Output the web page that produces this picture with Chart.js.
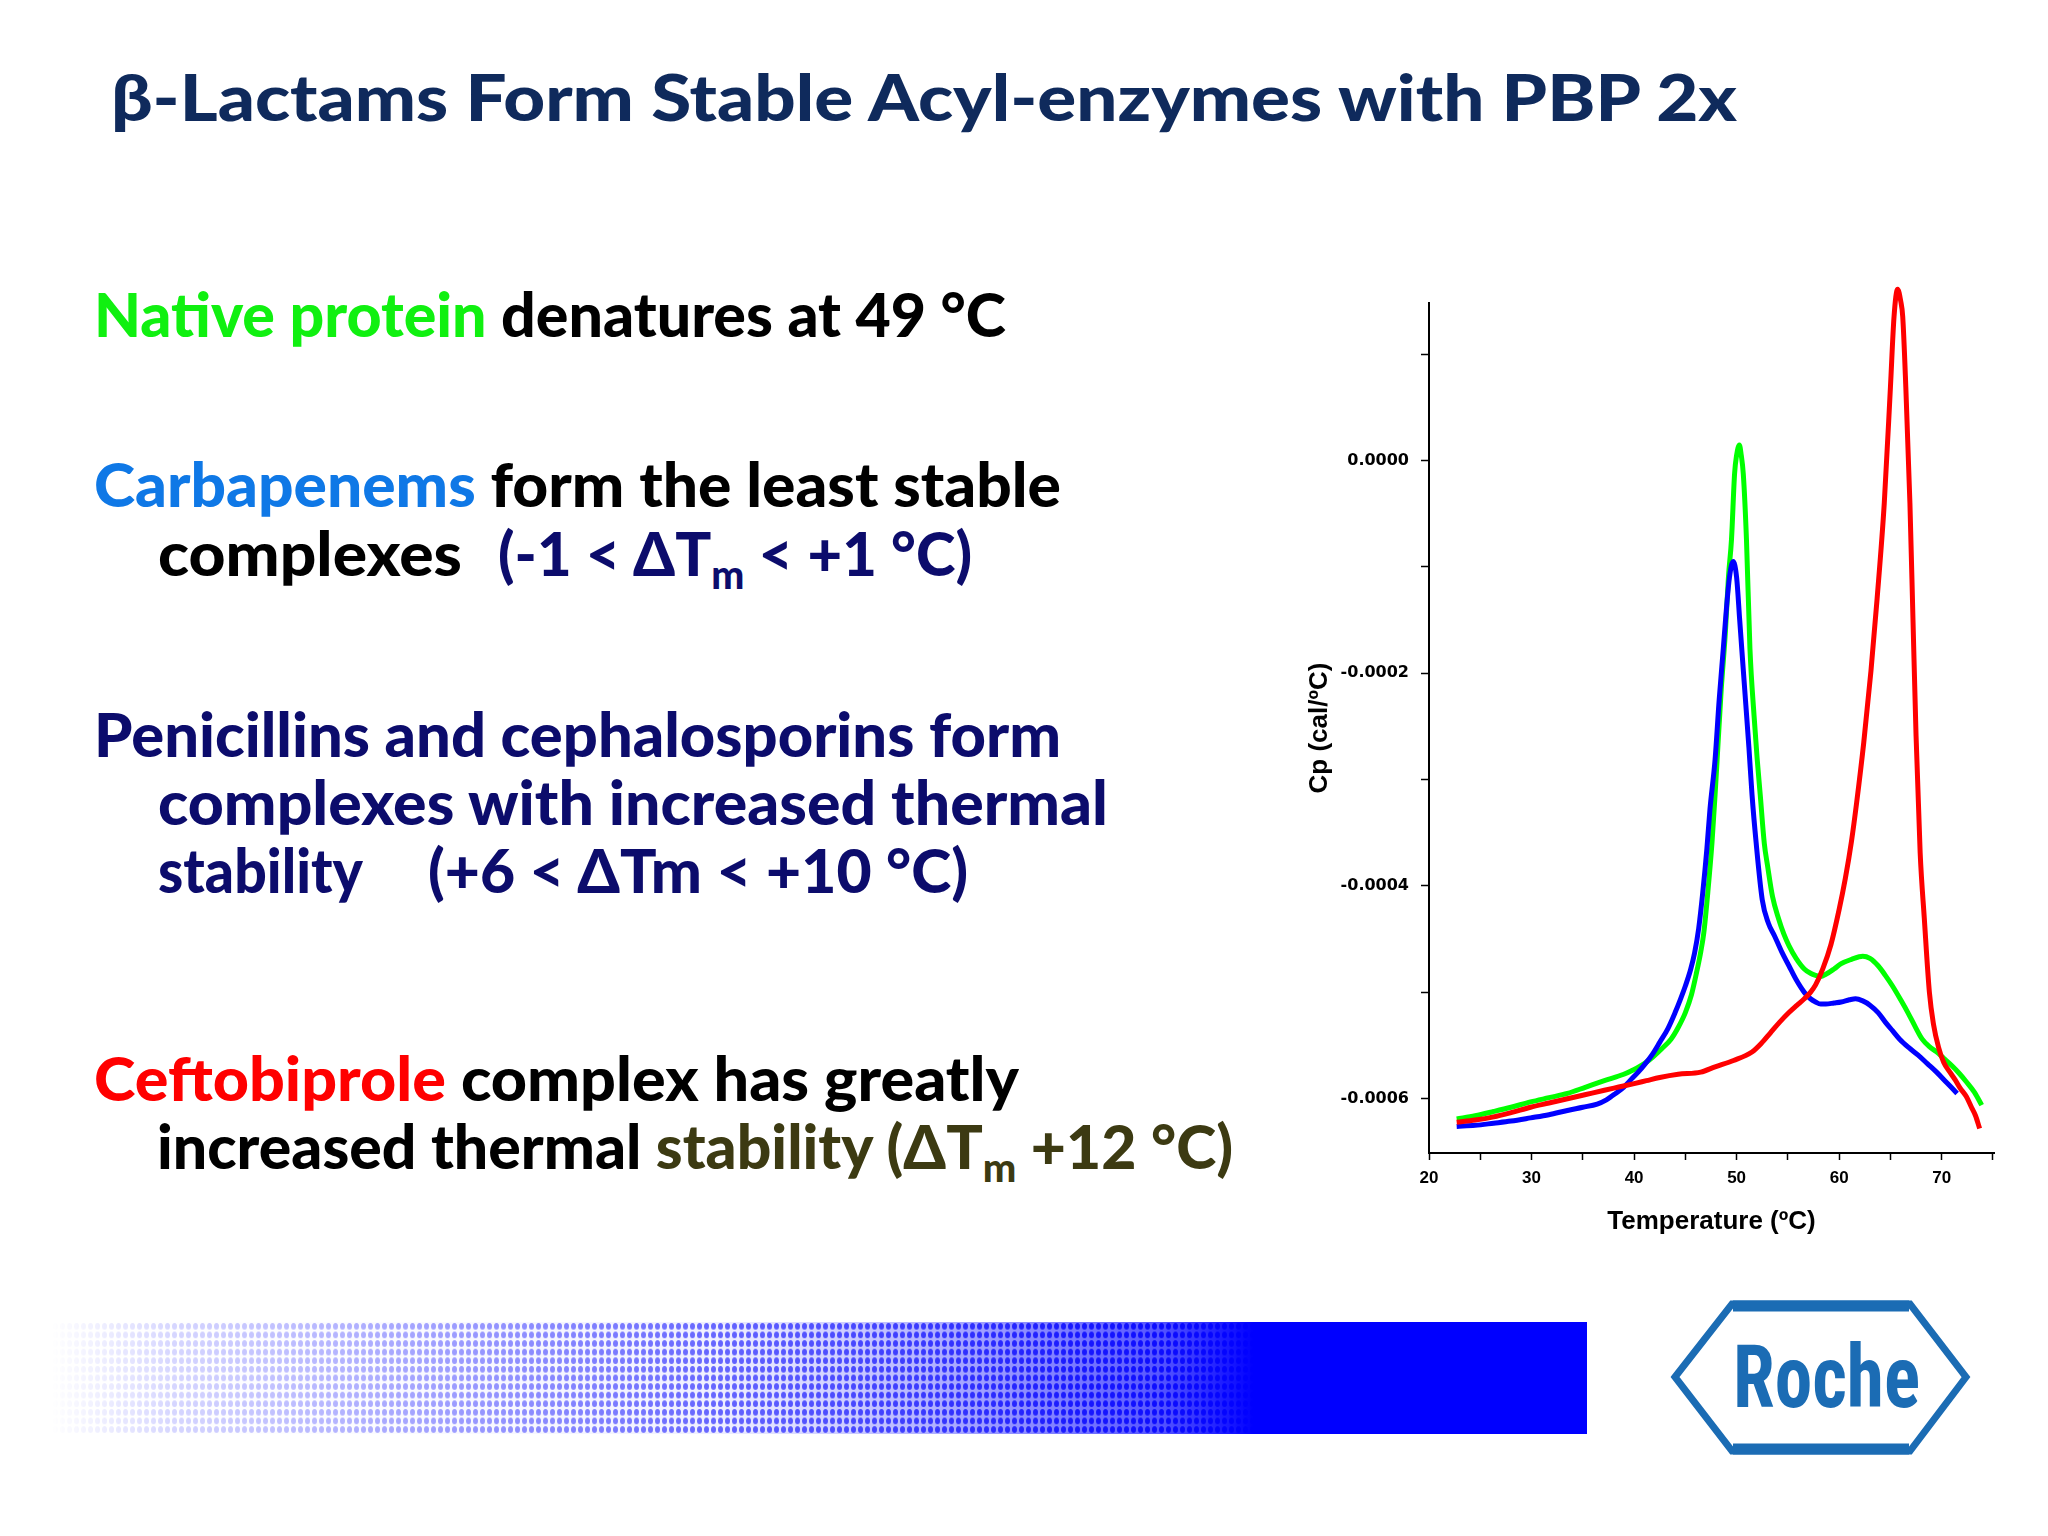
<!DOCTYPE html>
<html>
<head>
<meta charset="utf-8">
<script src="https://cdn.jsdelivr.net/npm/chart.js@4.4.1/dist/chart.umd.min.js"></script>
<style>
  html, body { margin: 0; padding: 0; background: #fff; }
  #slide { position: relative; width: 2048px; height: 1536px; overflow: hidden; background: #fff; }
  #art { position: absolute; left: 0; top: 0; }
  #cp { position: absolute; left: 1300px; top: 250px; }
</style>
</head>
<body>
<div id="slide">
  <svg id="art" width="2048" height="1536" viewBox="0 0 2048 1536" xmlns="http://www.w3.org/2000/svg">
    <defs>
      <linearGradient id="fade" gradientUnits="userSpaceOnUse" x1="52" y1="0" x2="1254" y2="0">
        <stop offset="0" stop-color="#0000ff" stop-opacity="0"/>
        <stop offset="0.1" stop-color="#0000ff" stop-opacity="0.16"/>
        <stop offset="0.5" stop-color="#0000ff" stop-opacity="0.55"/>
        <stop offset="0.85" stop-color="#0000ff" stop-opacity="0.9"/>
        <stop offset="1" stop-color="#0000ff" stop-opacity="1"/>
      </linearGradient>
      <linearGradient id="solidify" gradientUnits="userSpaceOnUse" x1="52" y1="0" x2="1254" y2="0">
        <stop offset="0" stop-color="#fff" stop-opacity="0"/>
        <stop offset="0.55" stop-color="#fff" stop-opacity="0.1"/>
        <stop offset="0.92" stop-color="#fff" stop-opacity="0.7"/>
        <stop offset="1" stop-color="#fff" stop-opacity="1"/>
      </linearGradient>
      <pattern id="dots" patternUnits="userSpaceOnUse" x="52" y="1322" width="7" height="8.6">
        <rect width="7" height="8.6" fill="#000"/>
        <ellipse cx="3.5" cy="4.3" rx="2.5" ry="3.4" fill="#fff"/>
      </pattern>
      <mask id="halftone" maskUnits="userSpaceOnUse" x="0" y="0" width="2048" height="1536">
        <rect x="52" y="1322" width="1202" height="112" fill="url(#dots)"/>
        <rect x="52" y="1322" width="1202" height="112" fill="url(#solidify)"/>
      </mask>
    </defs>

    <g font-family="Lato, 'Open Sans', sans-serif" font-weight="900">
      <text x="111" y="121" font-size="65" fill="#0f2a5c" textLength="1626" lengthAdjust="spacingAndGlyphs">β-Lactams Form Stable Acyl-enzymes with PBP 2x</text>

      <text x="94" y="337" font-size="61" textLength="912" lengthAdjust="spacingAndGlyphs"><tspan fill="#10f010">Native protein</tspan><tspan fill="#000"> denatures at 49 °C</tspan></text>

      <text x="94" y="507" font-size="61" textLength="967" lengthAdjust="spacingAndGlyphs"><tspan fill="#0f78e6">Carbapenems</tspan><tspan fill="#000"> form the least stable</tspan></text>
      <text x="158" y="576" font-size="61" fill="#000" textLength="304" lengthAdjust="spacingAndGlyphs">complexes</text>
      <text x="498" y="576" font-size="61" fill="#0c0c6c" textLength="474" lengthAdjust="spacingAndGlyphs">(-1 &lt; ΔT<tspan font-size="40" dy="13">m</tspan><tspan dy="-13"> &lt; +1 °C)</tspan></text>

      <text x="94" y="757" font-size="61" fill="#0c0c6c" textLength="967" lengthAdjust="spacingAndGlyphs">Penicillins and cephalosporins form</text>
      <text x="158" y="825" font-size="61" fill="#0c0c6c" textLength="950" lengthAdjust="spacingAndGlyphs">complexes with increased thermal</text>
      <text x="158" y="893" font-size="61" fill="#0c0c6c" textLength="205" lengthAdjust="spacingAndGlyphs">stability</text>
      <text x="428" y="893" font-size="61" fill="#0c0c6c" textLength="540" lengthAdjust="spacingAndGlyphs">(+6 &lt; ΔTm &lt; +10 °C)</text>

      <text x="94" y="1101" font-size="61" textLength="925" lengthAdjust="spacingAndGlyphs"><tspan fill="#ff0000">Ceftobiprole</tspan><tspan fill="#000"> complex has greatly</tspan></text>
      <text x="157" y="1169" font-size="61" textLength="1076" lengthAdjust="spacingAndGlyphs"><tspan fill="#000">increased thermal </tspan><tspan fill="#3c3a12">stability (ΔT</tspan><tspan fill="#3c3a12" font-size="40" dy="13">m</tspan><tspan fill="#3c3a12" dy="-13"> +12 °C)</tspan></text>
    </g>

    <rect x="52" y="1322" width="1202" height="112" fill="url(#fade)" mask="url(#halftone)"/>
    <rect x="1253" y="1322" width="334" height="112" fill="#0000ff"/>

    <g fill="none" stroke="#1b6cb4">
      <polygon points="1675,1377 1732,1304 1910,1304 1966,1377 1910,1451 1732,1451" stroke-width="7" stroke-linejoin="miter"/>
      <line x1="1733" y1="1306" x2="1909" y2="1306" stroke-width="11"/>
      <line x1="1733" y1="1449" x2="1909" y2="1449" stroke-width="11"/>
    </g>
    <text x="1733" y="1407" font-family="'Liberation Sans Narrow', 'Roboto Condensed', Roboto, sans-serif" font-weight="700" font-size="88" fill="#1b6cb4" textLength="187" lengthAdjust="spacingAndGlyphs">Roche</text>
  </svg>
  <canvas id="cp" width="710" height="987"></canvas>
</div>

<script>
// native PBP 2x (green)
const tempNative = [22.7, 24.5, 26.3, 28, 29.9, 31.7, 33.5, 35.3, 37.1, 39.0, 39.9, 41.0, 41.8, 42.7, 43.6, 44.3,
  45.0, 45.6, 46.1, 46.5, 46.8, 47.2, 47.6, 47.9, 48.1, 48.5, 48.9, 49.2, 49.5, 49.8, 50.0, 50.27, 50.45, 50.65,
  50.96, 51.3, 51.7, 52.0, 52.3, 52.7, 53.0, 53.5, 54.1, 54.6, 55.1, 55.8, 56.6, 57.2, 57.7, 58.2, 58.7, 59.5,
  60.2, 61.2, 62.3, 63.0, 63.8, 64.5, 65.2, 66.0, 66.7, 67.4, 68.1, 68.8, 69.5, 70.2, 71.0, 71.7, 72.4, 73.2, 73.9];
const cpNative = [-0.000619, -0.000616, -0.000612, -0.000608, -0.000603, -0.000599, -0.000595, -0.000589,
  -0.000583, -0.000577, -0.000573, -0.000567, -0.000561, -0.000553, -0.000544, -0.000533, -0.000519, -0.000502,
  -0.000481, -0.000462, -0.000444, -0.000405, -0.000359, -0.000314, -0.000281, -0.000215, -0.000162, -0.000110,
  -0.0000743, -0.0000126, 0.000005, 0.0000146, 0.000005, -0.0000126, -0.0000743, -0.000177, -0.000240, -0.000280,
  -0.000314, -0.000360, -0.000380, -0.000410, -0.000431, -0.000445, -0.000456, -0.000468, -0.000478, -0.000482,
  -0.000484, -0.000485, -0.000483, -0.000478, -0.000473, -0.000469, -0.000466, -0.000468, -0.000475, -0.000484,
  -0.000494, -0.000507, -0.000519, -0.000532, -0.000544, -0.000551, -0.000556, -0.000562, -0.000569, -0.000576,
  -0.000584, -0.000594, -0.000606];

// carbapenem complex (blue)
const tempCarbapenem = [22.7, 24.5, 26.3, 28, 29.9, 31.7, 33.5, 35, 36.4, 37.3, 38.2, 39.0, 39.6, 40.4, 41.1, 41.8,
  42.5, 43.3, 44.0, 44.5, 45.0, 45.5, 45.9, 46.3, 46.7, 47.1, 47.4, 47.9, 48.3, 48.7, 49.0, 49.3, 49.66, 50.0,
  50.3, 50.5, 50.9, 51.2, 51.5, 51.9, 52.5, 53.1, 53.7, 54.4, 55.1, 55.8, 56.6, 57.2, 57.7, 58.2, 58.7, 59.5, 60.2,
  61.0, 61.6, 62.3, 63.0, 63.8, 64.5, 65.2, 65.9, 66.8, 67.7, 68.6, 69.5, 70.5, 71.5];
const cpCarbapenem = [-0.000626, -0.000625, -0.000623, -0.000621, -0.000618, -0.000615, -0.000611, -0.000608,
  -0.000605, -0.000601, -0.000595, -0.000589, -0.000583, -0.000575, -0.000567, -0.000558, -0.000547, -0.000534,
  -0.000519, -0.000507, -0.000494, -0.000479, -0.000463, -0.000440, -0.000406, -0.000365, -0.000328, -0.000281,
  -0.000225, -0.000177, -0.000140, -0.000110, -0.000095, -0.000110, -0.000150, -0.000177, -0.000230, -0.000270,
  -0.000314, -0.000359, -0.000413, -0.000435, -0.000447, -0.000462, -0.000475, -0.000488, -0.000500, -0.000506,
  -0.000509, -0.000511, -0.000511, -0.000510, -0.000509, -0.000507, -0.000506, -0.000508, -0.000512, -0.000519,
  -0.000528, -0.000536, -0.000544, -0.000552, -0.000559, -0.000567, -0.000575, -0.000585, -0.000595];

// ceftobiprole complex (red)
const tempCeftobiprole = [22.7, 24.5, 26.3, 28, 29.9, 31.7, 33.5, 35.3, 37.1, 38.5, 39.9, 41.2, 42.5, 44.3, 46.5,
  47.9, 49.7, 51.5, 52.4, 53.3, 54.2, 55.1, 55.9, 56.6, 57.2, 57.7, 58.4, 59.2, 60.0, 60.6, 61.2, 61.7, 62.4, 63.1,
  63.7, 64.4, 65.0, 65.35, 65.7, 66.0, 66.2, 66.5, 66.9, 67.2, 67.5, 67.9, 68.3, 68.8, 69.2, 69.7, 70.2, 70.8,
  71.3, 71.8, 72.4, 72.9, 73.3, 73.7];
const cpCeftobiprole = [-0.000622, -0.000620, -0.000617, -0.000613, -0.000608, -0.000604, -0.000600, -0.000596,
  -0.000592, -0.000589, -0.000586, -0.000583, -0.000580, -0.000577, -0.000575, -0.000570, -0.000564, -0.000556,
  -0.000548, -0.000538, -0.000528, -0.000519, -0.000512, -0.000506, -0.000500, -0.000493, -0.000478, -0.000455,
  -0.000422, -0.000393, -0.000358, -0.000322, -0.000265, -0.000198, -0.000130, -0.000040, 0.000069, 0.000135,
  0.000161, 0.000150, 0.000135, 0.000069, -0.000040, -0.000150, -0.000259, -0.000369, -0.000430, -0.000500,
  -0.000530, -0.000552, -0.000566, -0.000575, -0.000582, -0.000590, -0.000598, -0.000608, -0.000616, -0.000628];

const xTickStep = 5;
const yTickStep = 0.0001;

function toPoints(xs, ys) {
  return xs.map((x, i) => ({ x: x, y: ys[i] }));
}

function curve(label, xs, ys, color, order) {
  return {
    label: label,
    data: toPoints(xs, ys),
    borderColor: color,
    backgroundColor: color,
    borderWidth: 5,
    pointRadius: 0,
    tension: 0.35,
    cubicInterpolationMode: 'monotone',
    clip: false,
    order: order
  };
}

const axisFont = { family: '"Liberation Sans", Arial, sans-serif', weight: 'bold', size: 26 };

const ctx = document.getElementById('cp').getContext('2d');
new Chart(ctx, {
  type: 'line',
  data: {
    datasets: [
      curve('Ceftobiprole', tempCeftobiprole, cpCeftobiprole, '#ff0000', 0),
      curve('Carbapenem', tempCarbapenem, cpCarbapenem, '#0000ff', 1),
      curve('Native', tempNative, cpNative, '#00ff00', 2)
    ]
  },
  options: {
    responsive: false,
    animation: false,
    devicePixelRatio: 1,
    layout: { padding: { left: 0, top: 53, right: 16, bottom: 0 } },
    plugins: { legend: { display: false }, tooltip: { enabled: false } },
    scales: {
      x: {
        type: 'linear',
        min: 20,
        max: 75.1,
        afterFit: (s) => { s.height = 84; },
        border: { display: true, color: '#000', width: 2 },
        grid: { drawOnChartArea: false, drawTicks: true, tickLength: 7, color: '#000', tickWidth: 1.5 },
        ticks: {
          stepSize: xTickStep,
          includeBounds: false,
          autoSkip: false,
          maxTicksLimit: 30,
          maxRotation: 0,
          padding: 8,
          color: '#000',
          font: { family: '"Liberation Sans", Arial, sans-serif', weight: 'bold', size: 17 },
          callback: (v) => (Math.round(v) % 10 === 0 ? String(Math.round(v)) : '')
        },
        title: {
          display: true,
          text: 'Temperature (ºC)',
          color: '#000',
          font: axisFont,
          padding: { top: 4, bottom: 0 }
        }
      },
      y: {
        type: 'linear',
        min: -0.000651,
        max: 0.000148,
        afterFit: (s) => { s.width = 129; },
        border: { display: true, color: '#000', width: 2 },
        grid: { drawOnChartArea: false, drawTicks: true, tickLength: 8, color: '#000', tickWidth: 1.5 },
        ticks: {
          stepSize: yTickStep,
          includeBounds: false,
          autoSkip: false,
          maxTicksLimit: 30,
          padding: 12,
          color: '#000',
          font: { family: '"DejaVu Sans", sans-serif', weight: 'bold', size: 16 },
          callback: (v) => {
            const k = Math.round(v * 10000);
            if (k % 2 !== 0) return '';
            return k === 0 ? '0.0000' : (k / 10000).toFixed(4);
          }
        },
        title: {
          display: true,
          text: 'Cp (cal/ºC)',
          color: '#000',
          font: axisFont,
          padding: { top: 4, bottom: 0 }
        }
      }
    }
  }
});
</script>
</body>
</html>
